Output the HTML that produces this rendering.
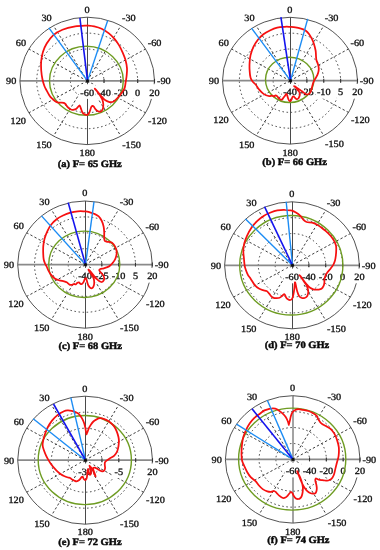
<!DOCTYPE html>
<html><head><meta charset="utf-8"><style>
html,body{margin:0;padding:0;background:#fff;}
svg{display:block;filter:blur(0.3px);}
text{text-rendering:geometricPrecision;font-family:"Liberation Serif",serif;font-size:9.6px;fill:#111;stroke:#111;stroke-width:0.32px;}
text.cap{font-weight:bold;font-size:9.8px;fill:#0a0a0a;stroke:#0a0a0a;stroke-width:0.45px;}
</style></head><body>
<svg width="380" height="550" viewBox="0 0 380 550">
<rect width="380" height="550" fill="#fff"/>
<ellipse cx="87.2" cy="80.9" rx="16.82" ry="15.93" fill="none" stroke="#3c3c3c" stroke-width="1" stroke-dasharray="1.5 2.6"/>
<ellipse cx="87.2" cy="80.9" rx="33.65" ry="31.85" fill="none" stroke="#3c3c3c" stroke-width="1" stroke-dasharray="1.5 2.6"/>
<ellipse cx="87.2" cy="80.9" rx="50.47" ry="47.78" fill="none" stroke="#3c3c3c" stroke-width="1" stroke-dasharray="1.5 2.6"/>
<line x1="87.2" y1="80.9" x2="53.55" y2="25.73" stroke="#3c3c3c" stroke-width="1" stroke-dasharray="2.4 2.2"/>
<line x1="87.2" y1="80.9" x2="28.92" y2="49.05" stroke="#3c3c3c" stroke-width="1" stroke-dasharray="2.4 2.2"/>
<line x1="87.2" y1="80.9" x2="28.92" y2="112.75" stroke="#3c3c3c" stroke-width="1" stroke-dasharray="2.4 2.2"/>
<line x1="87.2" y1="80.9" x2="53.55" y2="136.07" stroke="#3c3c3c" stroke-width="1" stroke-dasharray="2.4 2.2"/>
<line x1="87.2" y1="80.9" x2="120.85" y2="136.07" stroke="#3c3c3c" stroke-width="1" stroke-dasharray="2.4 2.2"/>
<line x1="87.2" y1="80.9" x2="145.48" y2="112.75" stroke="#3c3c3c" stroke-width="1" stroke-dasharray="2.4 2.2"/>
<line x1="87.2" y1="80.9" x2="145.48" y2="49.05" stroke="#3c3c3c" stroke-width="1" stroke-dasharray="2.4 2.2"/>
<line x1="87.2" y1="80.9" x2="120.85" y2="25.73" stroke="#3c3c3c" stroke-width="1" stroke-dasharray="2.4 2.2"/>
<line x1="19.90" y1="80.9" x2="154.50" y2="80.9" stroke="#8a8a8a" stroke-width="1.8"/>
<line x1="87.5" y1="17.20" x2="87.5" y2="144.60" stroke="#4a4a4a" stroke-width="1.05"/>
<ellipse cx="87.2" cy="80.9" rx="67.3" ry="63.7" fill="none" stroke="#4a4a4a" stroke-width="0.95"/>
<line x1="104.03" y1="78.90" x2="104.03" y2="82.90" stroke="#333" stroke-width="1.1"/>
<line x1="120.85" y1="78.90" x2="120.85" y2="82.90" stroke="#333" stroke-width="1.1"/>
<line x1="137.68" y1="78.90" x2="137.68" y2="82.90" stroke="#333" stroke-width="1.1"/>
<line x1="154.50" y1="78.90" x2="154.50" y2="82.90" stroke="#333" stroke-width="1.1"/>
<rect x="78.85" y="84.20" width="16.69" height="14.7" fill="#fff"/>
<rect x="95.68" y="84.20" width="16.69" height="14.7" fill="#fff"/>
<rect x="112.50" y="84.20" width="16.69" height="14.7" fill="#fff"/>
<rect x="133.61" y="84.20" width="8.14" height="14.7" fill="#fff"/>
<rect x="147.86" y="84.20" width="13.27" height="14.7" fill="#fff"/>
<text transform="translate(87.20,95.57) scale(1.07,1)" text-anchor="middle">-60</text>
<text transform="translate(104.03,95.57) scale(1.07,1)" text-anchor="middle">-40</text>
<text transform="translate(120.85,95.57) scale(1.07,1)" text-anchor="middle">-20</text>
<text transform="translate(137.68,95.57) scale(1.07,1)" text-anchor="middle">0</text>
<text transform="translate(154.50,95.57) scale(1.07,1)" text-anchor="middle">20</text>
<ellipse cx="86.4" cy="80.8" rx="36.9" ry="34.5" fill="none" stroke="#6e9c22" stroke-width="1.4"/>
<path d="M87.20,25.50 C85.20,25.65 79.33,25.70 75.20,26.40 C71.07,27.10 66.08,28.22 62.40,29.70 C58.72,31.18 55.72,33.00 53.10,35.30 C50.48,37.60 48.38,40.75 46.70,43.50 C45.02,46.25 43.92,48.88 43.00,51.80 C42.08,54.72 41.50,57.93 41.20,61.00 C40.90,64.07 40.98,67.12 41.20,70.20 C41.42,73.28 41.97,76.87 42.50,79.50 C43.03,82.13 43.72,84.18 44.40,86.00 C45.08,87.82 45.77,88.83 46.60,90.40 C47.43,91.97 48.47,94.02 49.40,95.40 C50.33,96.78 51.18,97.68 52.20,98.70 C53.22,99.72 54.50,100.85 55.50,101.50 C56.50,102.15 57.28,102.42 58.20,102.60 C59.12,102.78 60.07,102.57 61.00,102.60 C61.93,102.63 63.03,102.53 63.80,102.80 C64.57,103.07 65.05,103.60 65.60,104.20 C66.15,104.80 66.58,105.75 67.10,106.40 C67.62,107.05 68.15,107.63 68.70,108.10 C69.25,108.57 69.75,108.92 70.40,109.20 C71.05,109.48 71.82,109.77 72.60,109.80 C73.38,109.83 74.37,109.68 75.10,109.40 C75.83,109.12 76.40,108.65 77.00,108.10 C77.60,107.55 78.23,106.50 78.70,106.10 C79.17,105.70 79.38,105.17 79.80,105.70 C80.22,106.23 80.72,108.10 81.20,109.30 C81.68,110.50 82.00,112.00 82.70,112.90 C83.40,113.80 84.52,114.43 85.40,114.70 C86.28,114.97 87.30,114.97 88.00,114.50 C88.70,114.03 89.07,113.12 89.60,111.90 C90.13,110.68 90.72,108.22 91.20,107.20 C91.68,106.18 92.07,105.90 92.50,105.80 C92.93,105.70 93.32,106.05 93.80,106.60 C94.28,107.15 94.70,108.33 95.40,109.10 C96.10,109.87 97.13,110.78 98.00,111.20 C98.87,111.62 99.82,111.92 100.60,111.60 C101.38,111.28 102.25,110.48 102.70,109.30 C103.15,108.12 103.35,106.08 103.30,104.50 C103.25,102.92 102.93,101.28 102.40,99.80 C101.87,98.32 100.92,96.92 100.10,95.60 C99.28,94.28 98.38,93.05 97.50,91.90 C96.62,90.75 94.98,88.97 94.80,88.70 C94.62,88.43 95.68,89.50 96.40,90.30 C97.12,91.10 98.13,92.35 99.10,93.50 C100.07,94.65 101.15,96.07 102.20,97.20 C103.25,98.33 104.17,99.48 105.40,100.30 C106.63,101.12 108.23,101.88 109.60,102.10 C110.97,102.32 112.18,102.40 113.60,101.60 C115.02,100.80 116.73,98.78 118.10,97.30 C119.47,95.82 120.72,94.23 121.80,92.70 C122.88,91.17 123.97,89.80 124.60,88.10 C125.23,86.40 125.27,84.52 125.60,82.50 C125.93,80.48 126.37,78.35 126.60,76.00 C126.83,73.65 127.18,71.05 127.00,68.40 C126.82,65.75 126.20,62.70 125.50,60.10 C124.80,57.50 123.87,55.25 122.80,52.80 C121.73,50.35 120.48,47.72 119.10,45.40 C117.72,43.08 116.20,40.90 114.50,38.90 C112.80,36.90 111.05,35.08 108.90,33.40 C106.75,31.72 104.05,29.97 101.60,28.80 C99.15,27.63 96.60,26.95 94.20,26.40 C91.80,25.85 88.37,25.65 87.20,25.50" fill="none" stroke="#f61010" stroke-width="1.75" stroke-linejoin="round" stroke-linecap="round"/>
<line x1="48.9" y1="27.9" x2="87.5" y2="80.9" stroke="#1c8cf4" stroke-width="1.4"/>
<line x1="107.7" y1="20.5" x2="87.5" y2="80.9" stroke="#1c8cf4" stroke-width="1.4"/>
<line x1="79.9" y1="17.8" x2="87.5" y2="80.9" stroke="#1414ee" stroke-width="1.6"/>
<circle cx="87.5" cy="80.9" r="1.6" fill="#111"/>
<text transform="translate(87.00,12.77) scale(1.07,1)" text-anchor="middle">0</text>
<text transform="translate(46.60,21.37) scale(1.07,1)" text-anchor="middle">30</text>
<text transform="translate(20.90,45.77) scale(1.07,1)" text-anchor="middle">60</text>
<text transform="translate(11.20,84.27) scale(1.07,1)" text-anchor="middle">90</text>
<text transform="translate(18.20,123.67) scale(1.07,1)" text-anchor="middle">120</text>
<text transform="translate(44.00,147.77) scale(1.07,1)" text-anchor="middle">150</text>
<text transform="translate(87.30,156.07) scale(1.07,1)" text-anchor="middle">180</text>
<text transform="translate(131.60,147.67) scale(1.07,1)" text-anchor="middle">-150</text>
<text transform="translate(157.50,123.57) scale(1.07,1)" text-anchor="middle">-120</text>
<text transform="translate(163.90,84.47) scale(1.07,1)" text-anchor="middle">-90</text>
<text transform="translate(154.60,45.87) scale(1.07,1)" text-anchor="middle">-60</text>
<text transform="translate(128.80,21.47) scale(1.07,1)" text-anchor="middle">-30</text>
<text transform="translate(89.80,167.10) scale(1.07,1)" text-anchor="middle" class="cap">(a) F= 65 GHz</text>
<ellipse cx="290.0" cy="80.7" rx="16.88" ry="15.85" fill="none" stroke="#3c3c3c" stroke-width="1" stroke-dasharray="1.5 2.6"/>
<ellipse cx="290.0" cy="80.7" rx="33.75" ry="31.70" fill="none" stroke="#3c3c3c" stroke-width="1" stroke-dasharray="1.5 2.6"/>
<ellipse cx="290.0" cy="80.7" rx="50.62" ry="47.55" fill="none" stroke="#3c3c3c" stroke-width="1" stroke-dasharray="1.5 2.6"/>
<line x1="290.0" y1="80.7" x2="256.25" y2="25.79" stroke="#3c3c3c" stroke-width="1" stroke-dasharray="2.4 2.2"/>
<line x1="290.0" y1="80.7" x2="231.54" y2="49.00" stroke="#3c3c3c" stroke-width="1" stroke-dasharray="2.4 2.2"/>
<line x1="290.0" y1="80.7" x2="231.54" y2="112.40" stroke="#3c3c3c" stroke-width="1" stroke-dasharray="2.4 2.2"/>
<line x1="290.0" y1="80.7" x2="256.25" y2="135.61" stroke="#3c3c3c" stroke-width="1" stroke-dasharray="2.4 2.2"/>
<line x1="290.0" y1="80.7" x2="323.75" y2="135.61" stroke="#3c3c3c" stroke-width="1" stroke-dasharray="2.4 2.2"/>
<line x1="290.0" y1="80.7" x2="348.46" y2="112.40" stroke="#3c3c3c" stroke-width="1" stroke-dasharray="2.4 2.2"/>
<line x1="290.0" y1="80.7" x2="348.46" y2="49.00" stroke="#3c3c3c" stroke-width="1" stroke-dasharray="2.4 2.2"/>
<line x1="290.0" y1="80.7" x2="323.75" y2="25.79" stroke="#3c3c3c" stroke-width="1" stroke-dasharray="2.4 2.2"/>
<line x1="222.50" y1="80.7" x2="357.50" y2="80.7" stroke="#8a8a8a" stroke-width="1.8"/>
<line x1="290.5" y1="17.30" x2="290.5" y2="144.10" stroke="#4a4a4a" stroke-width="1.05"/>
<ellipse cx="290.0" cy="80.7" rx="67.5" ry="63.4" fill="none" stroke="#4a4a4a" stroke-width="0.95"/>
<line x1="306.88" y1="78.70" x2="306.88" y2="82.70" stroke="#333" stroke-width="1.1"/>
<line x1="323.75" y1="78.70" x2="323.75" y2="82.70" stroke="#333" stroke-width="1.1"/>
<line x1="340.62" y1="78.70" x2="340.62" y2="82.70" stroke="#333" stroke-width="1.1"/>
<line x1="357.50" y1="78.70" x2="357.50" y2="82.70" stroke="#333" stroke-width="1.1"/>
<rect x="281.65" y="84.00" width="16.69" height="14.7" fill="#fff"/>
<rect x="298.53" y="84.00" width="16.69" height="14.7" fill="#fff"/>
<rect x="315.40" y="84.00" width="16.69" height="14.7" fill="#fff"/>
<rect x="336.56" y="84.00" width="8.14" height="14.7" fill="#fff"/>
<rect x="350.86" y="84.00" width="13.27" height="14.7" fill="#fff"/>
<text transform="translate(290.00,95.37) scale(1.07,1)" text-anchor="middle">-40</text>
<text transform="translate(306.88,95.37) scale(1.07,1)" text-anchor="middle">-25</text>
<text transform="translate(323.75,95.37) scale(1.07,1)" text-anchor="middle">-10</text>
<text transform="translate(340.62,95.37) scale(1.07,1)" text-anchor="middle">5</text>
<text transform="translate(357.50,95.37) scale(1.07,1)" text-anchor="middle">20</text>
<ellipse cx="289.7" cy="79.85" rx="24.2" ry="22.65" fill="none" stroke="#6e9c22" stroke-width="1.4"/>
<path d="M290.00,26.80 C289.10,26.80 286.73,26.65 284.60,26.80 C282.47,26.95 279.65,27.08 277.20,27.70 C274.75,28.32 272.20,29.42 269.90,30.50 C267.60,31.58 265.40,32.67 263.40,34.20 C261.40,35.73 259.58,37.55 257.90,39.70 C256.22,41.85 254.53,44.48 253.30,47.10 C252.07,49.72 251.12,52.80 250.50,55.40 C249.88,58.00 249.75,60.25 249.60,62.70 C249.45,65.15 249.45,67.63 249.60,70.10 C249.75,72.57 250.00,75.60 250.50,77.50 C251.00,79.40 251.72,80.30 252.60,81.50 C253.48,82.70 254.73,83.38 255.80,84.70 C256.87,86.02 257.82,87.95 259.00,89.40 C260.18,90.85 261.72,92.42 262.90,93.40 C264.08,94.38 265.05,94.85 266.10,95.30 C267.15,95.75 268.15,96.03 269.20,96.10 C270.25,96.17 271.60,95.63 272.40,95.70 C273.20,95.77 273.48,96.57 274.00,96.50 C274.52,96.43 274.98,95.35 275.50,95.30 C276.02,95.25 276.43,95.60 277.10,96.20 C277.77,96.80 278.70,98.33 279.50,98.90 C280.30,99.47 281.22,99.83 281.90,99.60 C282.58,99.37 283.05,98.20 283.60,97.50 C284.15,96.80 284.77,96.02 285.20,95.40 C285.63,94.78 285.88,93.90 286.20,93.80 C286.52,93.70 286.83,94.18 287.10,94.80 C287.37,95.42 287.52,96.62 287.80,97.50 C288.08,98.38 288.40,99.48 288.80,100.10 C289.20,100.72 289.75,101.28 290.20,101.20 C290.65,101.12 291.12,100.32 291.50,99.60 C291.88,98.88 292.15,97.43 292.50,96.90 C292.85,96.37 293.15,96.22 293.60,96.40 C294.05,96.58 294.68,97.55 295.20,98.00 C295.72,98.45 296.18,99.02 296.70,99.10 C297.22,99.18 297.85,98.95 298.30,98.50 C298.75,98.05 299.13,97.10 299.40,96.40 C299.67,95.70 299.90,95.00 299.90,94.30 C299.90,93.60 299.75,92.90 299.40,92.20 C299.05,91.50 298.42,90.88 297.80,90.10 C297.18,89.32 296.32,88.15 295.70,87.50 C295.08,86.85 294.10,86.30 294.10,86.20 C294.10,86.10 295.08,86.52 295.70,86.90 C296.32,87.28 297.02,87.97 297.80,88.50 C298.58,89.03 299.52,89.48 300.40,90.10 C301.28,90.72 302.22,91.55 303.10,92.20 C303.98,92.85 304.95,93.62 305.70,94.00 C306.45,94.38 306.98,94.58 307.60,94.50 C308.22,94.42 308.87,94.03 309.40,93.50 C309.93,92.97 310.38,92.30 310.80,91.30 C311.22,90.30 311.55,88.77 311.90,87.50 C312.25,86.23 312.55,84.82 312.90,83.70 C313.25,82.58 313.58,81.67 314.00,80.80 C314.42,79.93 314.85,79.43 315.40,78.50 C315.95,77.57 316.78,76.38 317.30,75.20 C317.82,74.02 318.27,72.67 318.50,71.40 C318.73,70.13 318.82,68.87 318.70,67.60 C318.58,66.33 318.18,65.07 317.80,63.80 C317.42,62.53 316.70,61.30 316.40,60.00 C316.10,58.70 316.13,57.58 316.00,56.00 C315.87,54.42 315.97,52.60 315.60,50.50 C315.23,48.40 314.42,45.35 313.80,43.40 C313.18,41.45 312.67,40.33 311.90,38.80 C311.13,37.27 310.27,35.58 309.20,34.20 C308.13,32.82 306.88,31.42 305.50,30.50 C304.12,29.58 302.58,29.22 300.90,28.70 C299.22,28.18 297.22,27.72 295.40,27.40 C293.58,27.08 290.90,26.90 290.00,26.80" fill="none" stroke="#f61010" stroke-width="1.75" stroke-linejoin="round" stroke-linecap="round"/>
<line x1="251.5" y1="28.1" x2="290.5" y2="80.7" stroke="#1c8cf4" stroke-width="1.4"/>
<line x1="307.7" y1="18.9" x2="290.5" y2="80.7" stroke="#1c8cf4" stroke-width="1.4"/>
<line x1="280.9" y1="17.1" x2="290.5" y2="80.7" stroke="#1414ee" stroke-width="1.6"/>
<circle cx="290.5" cy="80.7" r="1.6" fill="#111"/>
<text transform="translate(289.80,12.57) scale(1.07,1)" text-anchor="middle">0</text>
<text transform="translate(249.40,21.17) scale(1.07,1)" text-anchor="middle">30</text>
<text transform="translate(223.70,45.57) scale(1.07,1)" text-anchor="middle">60</text>
<text transform="translate(214.00,84.07) scale(1.07,1)" text-anchor="middle">90</text>
<text transform="translate(221.00,123.47) scale(1.07,1)" text-anchor="middle">120</text>
<text transform="translate(246.80,147.57) scale(1.07,1)" text-anchor="middle">150</text>
<text transform="translate(290.10,155.87) scale(1.07,1)" text-anchor="middle">180</text>
<text transform="translate(334.40,147.47) scale(1.07,1)" text-anchor="middle">-150</text>
<text transform="translate(360.30,123.37) scale(1.07,1)" text-anchor="middle">-120</text>
<text transform="translate(366.70,84.27) scale(1.07,1)" text-anchor="middle">-90</text>
<text transform="translate(357.40,45.67) scale(1.07,1)" text-anchor="middle">-60</text>
<text transform="translate(331.60,21.27) scale(1.07,1)" text-anchor="middle">-30</text>
<text transform="translate(294.60,165.40) scale(1.07,1)" text-anchor="middle" class="cap">(b) F= 66 GHz</text>
<ellipse cx="85.0" cy="264.6" rx="16.82" ry="15.90" fill="none" stroke="#3c3c3c" stroke-width="1" stroke-dasharray="1.5 2.6"/>
<ellipse cx="85.0" cy="264.6" rx="33.65" ry="31.80" fill="none" stroke="#3c3c3c" stroke-width="1" stroke-dasharray="1.5 2.6"/>
<ellipse cx="85.0" cy="264.6" rx="50.47" ry="47.70" fill="none" stroke="#3c3c3c" stroke-width="1" stroke-dasharray="1.5 2.6"/>
<line x1="85.0" y1="264.6" x2="51.35" y2="209.52" stroke="#3c3c3c" stroke-width="1" stroke-dasharray="2.4 2.2"/>
<line x1="85.0" y1="264.6" x2="26.72" y2="232.80" stroke="#3c3c3c" stroke-width="1" stroke-dasharray="2.4 2.2"/>
<line x1="85.0" y1="264.6" x2="26.72" y2="296.40" stroke="#3c3c3c" stroke-width="1" stroke-dasharray="2.4 2.2"/>
<line x1="85.0" y1="264.6" x2="51.35" y2="319.68" stroke="#3c3c3c" stroke-width="1" stroke-dasharray="2.4 2.2"/>
<line x1="85.0" y1="264.6" x2="118.65" y2="319.68" stroke="#3c3c3c" stroke-width="1" stroke-dasharray="2.4 2.2"/>
<line x1="85.0" y1="264.6" x2="143.28" y2="296.40" stroke="#3c3c3c" stroke-width="1" stroke-dasharray="2.4 2.2"/>
<line x1="85.0" y1="264.6" x2="143.28" y2="232.80" stroke="#3c3c3c" stroke-width="1" stroke-dasharray="2.4 2.2"/>
<line x1="85.0" y1="264.6" x2="118.65" y2="209.52" stroke="#3c3c3c" stroke-width="1" stroke-dasharray="2.4 2.2"/>
<line x1="17.70" y1="264.6" x2="152.30" y2="264.6" stroke="#8a8a8a" stroke-width="1.8"/>
<line x1="85.5" y1="201.00" x2="85.5" y2="328.20" stroke="#4a4a4a" stroke-width="1.05"/>
<ellipse cx="85.0" cy="264.6" rx="67.3" ry="63.6" fill="none" stroke="#4a4a4a" stroke-width="0.95"/>
<line x1="101.83" y1="262.60" x2="101.83" y2="266.60" stroke="#333" stroke-width="1.1"/>
<line x1="118.65" y1="262.60" x2="118.65" y2="266.60" stroke="#333" stroke-width="1.1"/>
<line x1="135.47" y1="262.60" x2="135.47" y2="266.60" stroke="#333" stroke-width="1.1"/>
<line x1="152.30" y1="262.60" x2="152.30" y2="266.60" stroke="#333" stroke-width="1.1"/>
<rect x="76.65" y="267.90" width="16.69" height="14.7" fill="#fff"/>
<rect x="93.48" y="267.90" width="16.69" height="14.7" fill="#fff"/>
<rect x="110.30" y="267.90" width="16.69" height="14.7" fill="#fff"/>
<rect x="131.41" y="267.90" width="8.14" height="14.7" fill="#fff"/>
<rect x="145.66" y="267.90" width="13.27" height="14.7" fill="#fff"/>
<text transform="translate(85.00,279.27) scale(1.07,1)" text-anchor="middle">-40</text>
<text transform="translate(101.83,279.27) scale(1.07,1)" text-anchor="middle">-25</text>
<text transform="translate(118.65,279.27) scale(1.07,1)" text-anchor="middle">-10</text>
<text transform="translate(135.47,279.27) scale(1.07,1)" text-anchor="middle">5</text>
<text transform="translate(152.30,279.27) scale(1.07,1)" text-anchor="middle">20</text>
<ellipse cx="84.25" cy="264.3" rx="35.55" ry="33.2" fill="none" stroke="#6e9c22" stroke-width="1.4"/>
<path d="M85.00,211.30 C83.80,211.30 80.23,211.07 77.80,211.30 C75.37,211.53 72.87,212.00 70.40,212.70 C67.93,213.40 65.30,214.42 63.00,215.50 C60.70,216.58 58.58,217.67 56.60,219.20 C54.62,220.73 52.63,222.72 51.10,224.70 C49.57,226.68 48.48,228.80 47.40,231.10 C46.32,233.40 45.28,236.03 44.60,238.50 C43.92,240.97 43.53,243.45 43.30,245.90 C43.07,248.35 43.13,250.93 43.20,253.20 C43.27,255.47 43.40,257.78 43.70,259.50 C44.00,261.22 44.53,262.38 45.00,263.50 C45.47,264.62 45.95,265.07 46.50,266.20 C47.05,267.33 47.53,268.85 48.30,270.30 C49.07,271.75 50.02,273.52 51.10,274.90 C52.18,276.28 53.42,277.68 54.80,278.60 C56.18,279.52 57.87,279.95 59.40,280.40 C60.93,280.85 62.78,280.98 64.00,281.30 C65.22,281.62 65.78,281.75 66.70,282.30 C67.62,282.85 68.60,284.17 69.50,284.60 C70.40,285.03 71.32,285.02 72.10,284.90 C72.88,284.78 73.58,283.98 74.20,283.90 C74.82,283.82 75.27,284.58 75.80,284.40 C76.33,284.22 76.88,283.15 77.40,282.80 C77.92,282.45 78.47,282.20 78.90,282.30 C79.33,282.40 79.58,283.10 80.00,283.40 C80.42,283.70 80.97,284.10 81.40,284.10 C81.83,284.10 82.18,283.87 82.60,283.40 C83.02,282.93 83.55,282.00 83.90,281.30 C84.25,280.60 84.38,279.73 84.70,279.20 C85.02,278.67 85.48,278.02 85.80,278.10 C86.12,278.18 86.33,278.92 86.60,279.70 C86.87,280.48 87.10,281.83 87.40,282.80 C87.70,283.77 87.97,284.70 88.40,285.50 C88.83,286.30 89.47,287.13 90.00,287.60 C90.53,288.07 91.12,288.30 91.60,288.30 C92.08,288.30 92.50,288.17 92.90,287.60 C93.30,287.03 93.78,285.87 94.00,284.90 C94.22,283.93 94.25,282.85 94.20,281.80 C94.15,280.75 94.05,279.65 93.70,278.60 C93.35,277.55 92.72,276.55 92.10,275.50 C91.48,274.45 90.62,273.27 90.00,272.30 C89.38,271.33 88.40,269.95 88.40,269.70 C88.40,269.45 89.38,270.15 90.00,270.80 C90.62,271.45 91.32,272.60 92.10,273.60 C92.88,274.60 93.85,275.83 94.70,276.80 C95.55,277.77 96.40,278.65 97.20,279.40 C98.00,280.15 98.77,280.87 99.50,281.30 C100.23,281.73 100.97,282.05 101.60,282.00 C102.23,281.95 102.87,281.57 103.30,281.00 C103.73,280.43 104.15,279.43 104.20,278.60 C104.25,277.77 103.97,276.82 103.60,276.00 C103.23,275.18 102.60,274.45 102.00,273.70 C101.40,272.95 100.47,272.12 100.00,271.50 C99.53,270.88 99.15,270.42 99.20,270.00 C99.25,269.58 99.53,269.28 100.30,269.00 C101.07,268.72 102.62,268.62 103.80,268.30 C104.98,267.98 106.33,267.57 107.40,267.10 C108.47,266.63 109.35,266.17 110.20,265.50 C111.05,264.83 111.78,263.95 112.50,263.10 C113.22,262.25 113.95,261.33 114.50,260.40 C115.05,259.47 115.45,258.53 115.80,257.50 C116.15,256.47 116.48,255.37 116.60,254.20 C116.72,253.03 116.73,251.73 116.50,250.50 C116.27,249.27 115.72,247.88 115.20,246.80 C114.68,245.72 114.17,244.77 113.40,244.00 C112.63,243.23 111.68,242.57 110.60,242.20 C109.52,241.83 107.88,242.05 106.90,241.80 C105.92,241.55 105.15,241.40 104.70,240.70 C104.25,240.00 104.28,239.03 104.20,237.60 C104.12,236.17 104.30,233.95 104.20,232.10 C104.10,230.25 104.00,228.35 103.60,226.50 C103.20,224.65 102.62,222.68 101.80,221.00 C100.98,219.32 100.00,217.62 98.70,216.40 C97.40,215.18 95.70,214.47 94.00,213.70 C92.30,212.93 90.00,212.20 88.50,211.80 C87.00,211.40 85.58,211.38 85.00,211.30" fill="none" stroke="#f61010" stroke-width="1.75" stroke-linejoin="round" stroke-linecap="round"/>
<line x1="41.5" y1="215.9" x2="85.5" y2="264.6" stroke="#1c8cf4" stroke-width="1.4"/>
<line x1="94" y1="201.7" x2="85.5" y2="264.6" stroke="#1c8cf4" stroke-width="1.4"/>
<line x1="68.2" y1="202.6" x2="85.5" y2="264.6" stroke="#1414ee" stroke-width="1.6"/>
<circle cx="85.5" cy="264.6" r="1.6" fill="#111"/>
<text transform="translate(84.80,196.47) scale(1.07,1)" text-anchor="middle">0</text>
<text transform="translate(44.40,205.07) scale(1.07,1)" text-anchor="middle">30</text>
<text transform="translate(18.70,229.47) scale(1.07,1)" text-anchor="middle">60</text>
<text transform="translate(9.00,267.97) scale(1.07,1)" text-anchor="middle">90</text>
<text transform="translate(16.00,307.37) scale(1.07,1)" text-anchor="middle">120</text>
<text transform="translate(41.80,331.47) scale(1.07,1)" text-anchor="middle">150</text>
<text transform="translate(85.10,339.77) scale(1.07,1)" text-anchor="middle">180</text>
<text transform="translate(129.40,331.37) scale(1.07,1)" text-anchor="middle">-150</text>
<text transform="translate(155.30,307.27) scale(1.07,1)" text-anchor="middle">-120</text>
<text transform="translate(161.70,268.17) scale(1.07,1)" text-anchor="middle">-90</text>
<text transform="translate(152.40,229.57) scale(1.07,1)" text-anchor="middle">-60</text>
<text transform="translate(126.60,205.17) scale(1.07,1)" text-anchor="middle">-30</text>
<text transform="translate(90.20,348.70) scale(1.07,1)" text-anchor="middle" class="cap">(c) F= 68 GHz</text>
<ellipse cx="292.0" cy="265.3" rx="16.85" ry="15.88" fill="none" stroke="#3c3c3c" stroke-width="1" stroke-dasharray="1.5 2.6"/>
<ellipse cx="292.0" cy="265.3" rx="33.70" ry="31.75" fill="none" stroke="#3c3c3c" stroke-width="1" stroke-dasharray="1.5 2.6"/>
<ellipse cx="292.0" cy="265.3" rx="50.55" ry="47.62" fill="none" stroke="#3c3c3c" stroke-width="1" stroke-dasharray="1.5 2.6"/>
<line x1="292.0" y1="265.3" x2="258.30" y2="210.31" stroke="#3c3c3c" stroke-width="1" stroke-dasharray="2.4 2.2"/>
<line x1="292.0" y1="265.3" x2="233.63" y2="233.55" stroke="#3c3c3c" stroke-width="1" stroke-dasharray="2.4 2.2"/>
<line x1="292.0" y1="265.3" x2="233.63" y2="297.05" stroke="#3c3c3c" stroke-width="1" stroke-dasharray="2.4 2.2"/>
<line x1="292.0" y1="265.3" x2="258.30" y2="320.29" stroke="#3c3c3c" stroke-width="1" stroke-dasharray="2.4 2.2"/>
<line x1="292.0" y1="265.3" x2="325.70" y2="320.29" stroke="#3c3c3c" stroke-width="1" stroke-dasharray="2.4 2.2"/>
<line x1="292.0" y1="265.3" x2="350.37" y2="297.05" stroke="#3c3c3c" stroke-width="1" stroke-dasharray="2.4 2.2"/>
<line x1="292.0" y1="265.3" x2="350.37" y2="233.55" stroke="#3c3c3c" stroke-width="1" stroke-dasharray="2.4 2.2"/>
<line x1="292.0" y1="265.3" x2="325.70" y2="210.31" stroke="#3c3c3c" stroke-width="1" stroke-dasharray="2.4 2.2"/>
<line x1="224.60" y1="265.3" x2="359.40" y2="265.3" stroke="#8a8a8a" stroke-width="1.8"/>
<line x1="292.5" y1="201.80" x2="292.5" y2="328.80" stroke="#4a4a4a" stroke-width="1.05"/>
<ellipse cx="292.0" cy="265.3" rx="67.4" ry="63.5" fill="none" stroke="#4a4a4a" stroke-width="0.95"/>
<line x1="308.85" y1="263.30" x2="308.85" y2="267.30" stroke="#333" stroke-width="1.1"/>
<line x1="325.70" y1="263.30" x2="325.70" y2="267.30" stroke="#333" stroke-width="1.1"/>
<line x1="342.55" y1="263.30" x2="342.55" y2="267.30" stroke="#333" stroke-width="1.1"/>
<line x1="359.40" y1="263.30" x2="359.40" y2="267.30" stroke="#333" stroke-width="1.1"/>
<rect x="283.65" y="268.60" width="16.69" height="14.7" fill="#fff"/>
<rect x="300.50" y="268.60" width="16.69" height="14.7" fill="#fff"/>
<rect x="317.35" y="268.60" width="16.69" height="14.7" fill="#fff"/>
<rect x="338.48" y="268.60" width="8.14" height="14.7" fill="#fff"/>
<rect x="352.76" y="268.60" width="13.27" height="14.7" fill="#fff"/>
<text transform="translate(292.00,279.97) scale(1.07,1)" text-anchor="middle">-60</text>
<text transform="translate(308.85,279.97) scale(1.07,1)" text-anchor="middle">-40</text>
<text transform="translate(325.70,279.97) scale(1.07,1)" text-anchor="middle">-20</text>
<text transform="translate(342.55,279.97) scale(1.07,1)" text-anchor="middle">0</text>
<text transform="translate(359.40,279.97) scale(1.07,1)" text-anchor="middle">20</text>
<ellipse cx="291.3" cy="265.25" rx="51.6" ry="49.75" fill="none" stroke="#6e9c22" stroke-width="1.4"/>
<path d="M292.00,210.60 C290.80,210.50 287.23,210.03 284.80,210.00 C282.37,209.97 279.87,209.93 277.40,210.40 C274.93,210.87 272.30,211.88 270.00,212.80 C267.70,213.72 265.75,214.52 263.60,215.90 C261.45,217.28 259.10,219.17 257.10,221.10 C255.10,223.03 253.28,225.05 251.60,227.50 C249.92,229.95 248.22,233.18 247.00,235.80 C245.78,238.42 244.92,240.73 244.30,243.20 C243.68,245.67 243.37,248.13 243.30,250.60 C243.23,253.07 243.68,255.55 243.90,258.00 C244.12,260.45 244.30,263.38 244.60,265.30 C244.90,267.22 245.15,267.90 245.70,269.50 C246.25,271.10 247.18,273.52 247.90,274.90 C248.62,276.28 249.25,276.70 250.00,277.80 C250.75,278.90 251.52,280.18 252.40,281.50 C253.28,282.82 254.22,284.52 255.30,285.70 C256.38,286.88 257.62,287.85 258.90,288.60 C260.18,289.35 261.72,289.80 263.00,290.20 C264.28,290.60 265.60,290.47 266.60,291.00 C267.60,291.53 268.22,292.52 269.00,293.40 C269.78,294.28 270.52,295.55 271.30,296.30 C272.08,297.05 272.80,297.60 273.70,297.90 C274.60,298.20 275.72,298.13 276.70,298.10 C277.68,298.07 278.72,298.03 279.60,297.70 C280.48,297.37 281.30,296.68 282.00,296.10 C282.70,295.52 283.30,294.40 283.80,294.20 C284.30,294.00 284.62,294.35 285.00,294.90 C285.38,295.45 285.62,296.77 286.10,297.50 C286.58,298.23 287.20,298.88 287.90,299.30 C288.60,299.72 289.58,300.12 290.30,300.00 C291.02,299.88 291.67,299.58 292.20,298.60 C292.73,297.62 293.15,295.77 293.50,294.10 C293.85,292.43 294.10,290.32 294.30,288.60 C294.50,286.88 294.57,284.85 294.70,283.80 C294.83,282.75 294.90,282.03 295.10,282.30 C295.30,282.57 295.63,284.22 295.90,285.40 C296.17,286.58 296.37,288.08 296.70,289.40 C297.03,290.72 297.45,292.12 297.90,293.30 C298.35,294.48 298.75,295.72 299.40,296.50 C300.05,297.28 300.93,297.75 301.80,298.00 C302.67,298.25 303.75,298.25 304.60,298.00 C305.45,297.75 306.32,297.28 306.90,296.50 C307.48,295.72 307.90,294.35 308.10,293.30 C308.30,292.25 308.30,291.38 308.10,290.20 C307.90,289.02 307.42,287.40 306.90,286.20 C306.38,285.00 305.65,284.05 305.00,283.00 C304.35,281.95 303.67,280.88 303.00,279.90 C302.33,278.92 301.60,277.88 301.00,277.10 C300.40,276.32 299.40,275.27 299.40,275.20 C299.40,275.13 300.27,275.78 301.00,276.70 C301.73,277.62 302.82,279.38 303.80,280.70 C304.78,282.02 305.85,283.42 306.90,284.60 C307.95,285.78 309.03,287.00 310.10,287.80 C311.17,288.60 312.25,289.10 313.30,289.40 C314.35,289.70 315.57,289.57 316.40,289.60 C317.23,289.63 317.45,289.73 318.30,289.60 C319.15,289.47 320.62,289.42 321.50,288.80 C322.38,288.18 323.12,286.93 323.60,285.90 C324.08,284.87 324.27,283.68 324.40,282.60 C324.53,281.52 324.20,280.62 324.40,279.40 C324.60,278.18 325.05,276.53 325.60,275.30 C326.15,274.07 326.88,273.10 327.70,272.00 C328.52,270.90 329.55,269.93 330.50,268.70 C331.45,267.47 332.65,265.97 333.40,264.60 C334.15,263.23 334.60,261.93 335.00,260.50 C335.40,259.07 335.60,257.58 335.80,256.00 C336.00,254.42 336.17,252.75 336.20,251.00 C336.23,249.25 336.40,247.27 336.00,245.50 C335.60,243.73 334.72,242.02 333.80,240.40 C332.88,238.78 331.82,237.33 330.50,235.80 C329.18,234.27 327.43,232.58 325.90,231.20 C324.37,229.82 322.83,228.63 321.30,227.50 C319.77,226.37 318.23,225.22 316.70,224.40 C315.17,223.58 313.78,223.00 312.10,222.60 C310.42,222.20 307.98,222.40 306.60,222.00 C305.22,221.60 304.88,221.27 303.80,220.20 C302.72,219.13 301.48,216.92 300.10,215.60 C298.72,214.28 296.85,213.13 295.50,212.30 C294.15,211.47 292.58,210.88 292.00,210.60" fill="none" stroke="#f61010" stroke-width="1.75" stroke-linejoin="round" stroke-linecap="round"/>
<line x1="245.5" y1="218.9" x2="292.5" y2="265.3" stroke="#1c8cf4" stroke-width="1.4"/>
<line x1="286.2" y1="201.8" x2="292.5" y2="265.3" stroke="#1c8cf4" stroke-width="1.4"/>
<line x1="264.5" y1="206.7" x2="292.5" y2="265.3" stroke="#1414ee" stroke-width="1.6"/>
<circle cx="292.5" cy="265.3" r="1.6" fill="#111"/>
<text transform="translate(291.80,197.17) scale(1.07,1)" text-anchor="middle">0</text>
<text transform="translate(251.40,205.77) scale(1.07,1)" text-anchor="middle">30</text>
<text transform="translate(225.70,230.17) scale(1.07,1)" text-anchor="middle">60</text>
<text transform="translate(216.00,268.67) scale(1.07,1)" text-anchor="middle">90</text>
<text transform="translate(223.00,308.07) scale(1.07,1)" text-anchor="middle">120</text>
<text transform="translate(248.80,332.17) scale(1.07,1)" text-anchor="middle">150</text>
<text transform="translate(292.10,340.47) scale(1.07,1)" text-anchor="middle">180</text>
<text transform="translate(336.40,332.07) scale(1.07,1)" text-anchor="middle">-150</text>
<text transform="translate(362.30,307.97) scale(1.07,1)" text-anchor="middle">-120</text>
<text transform="translate(368.70,268.87) scale(1.07,1)" text-anchor="middle">-90</text>
<text transform="translate(359.40,230.27) scale(1.07,1)" text-anchor="middle">-60</text>
<text transform="translate(333.60,205.87) scale(1.07,1)" text-anchor="middle">-30</text>
<text transform="translate(297.00,348.20) scale(1.07,1)" text-anchor="middle" class="cap">(d) F= 70 GHz</text>
<ellipse cx="85.1" cy="460.2" rx="16.85" ry="16.00" fill="none" stroke="#3c3c3c" stroke-width="1" stroke-dasharray="1.5 2.6"/>
<ellipse cx="85.1" cy="460.2" rx="33.70" ry="32.00" fill="none" stroke="#3c3c3c" stroke-width="1" stroke-dasharray="1.5 2.6"/>
<ellipse cx="85.1" cy="460.2" rx="50.55" ry="48.00" fill="none" stroke="#3c3c3c" stroke-width="1" stroke-dasharray="1.5 2.6"/>
<line x1="85.1" y1="460.2" x2="51.40" y2="404.77" stroke="#3c3c3c" stroke-width="1" stroke-dasharray="2.4 2.2"/>
<line x1="85.1" y1="460.2" x2="26.73" y2="428.20" stroke="#3c3c3c" stroke-width="1" stroke-dasharray="2.4 2.2"/>
<line x1="85.1" y1="460.2" x2="26.73" y2="492.20" stroke="#3c3c3c" stroke-width="1" stroke-dasharray="2.4 2.2"/>
<line x1="85.1" y1="460.2" x2="51.40" y2="515.63" stroke="#3c3c3c" stroke-width="1" stroke-dasharray="2.4 2.2"/>
<line x1="85.1" y1="460.2" x2="118.80" y2="515.63" stroke="#3c3c3c" stroke-width="1" stroke-dasharray="2.4 2.2"/>
<line x1="85.1" y1="460.2" x2="143.47" y2="492.20" stroke="#3c3c3c" stroke-width="1" stroke-dasharray="2.4 2.2"/>
<line x1="85.1" y1="460.2" x2="143.47" y2="428.20" stroke="#3c3c3c" stroke-width="1" stroke-dasharray="2.4 2.2"/>
<line x1="85.1" y1="460.2" x2="118.80" y2="404.77" stroke="#3c3c3c" stroke-width="1" stroke-dasharray="2.4 2.2"/>
<line x1="17.70" y1="460.2" x2="152.50" y2="460.2" stroke="#8a8a8a" stroke-width="1.8"/>
<line x1="85.5" y1="396.20" x2="85.5" y2="524.20" stroke="#4a4a4a" stroke-width="1.05"/>
<ellipse cx="85.1" cy="460.2" rx="67.4" ry="64.0" fill="none" stroke="#4a4a4a" stroke-width="0.95"/>
<line x1="101.95" y1="458.20" x2="101.95" y2="462.20" stroke="#333" stroke-width="1.1"/>
<line x1="118.80" y1="458.20" x2="118.80" y2="462.20" stroke="#333" stroke-width="1.1"/>
<line x1="135.65" y1="458.20" x2="135.65" y2="462.20" stroke="#333" stroke-width="1.1"/>
<line x1="152.50" y1="458.20" x2="152.50" y2="462.20" stroke="#333" stroke-width="1.1"/>
<rect x="76.75" y="463.50" width="16.69" height="14.7" fill="#fff"/>
<rect x="113.02" y="463.50" width="11.56" height="14.7" fill="#fff"/>
<rect x="145.86" y="463.50" width="13.27" height="14.7" fill="#fff"/>
<text transform="translate(85.10,474.87) scale(1.07,1)" text-anchor="middle">-30</text>
<text transform="translate(118.80,474.87) scale(1.07,1)" text-anchor="middle">-5</text>
<text transform="translate(152.50,474.87) scale(1.07,1)" text-anchor="middle">20</text>
<ellipse cx="84.8" cy="460.05" rx="46.6" ry="44.55" fill="none" stroke="#6e9c22" stroke-width="1.4"/>
<path d="M86.50,434.30 C86.42,433.90 86.20,433.00 86.00,431.90 C85.80,430.80 85.57,429.03 85.30,427.70 C85.03,426.37 84.80,425.17 84.40,423.90 C84.00,422.63 83.47,421.28 82.90,420.10 C82.33,418.92 81.70,417.83 81.00,416.80 C80.30,415.77 79.63,414.70 78.70,413.90 C77.77,413.10 76.58,412.52 75.40,412.00 C74.22,411.48 72.87,411.07 71.60,410.80 C70.33,410.53 69.07,410.33 67.80,410.40 C66.53,410.47 65.72,410.42 64.00,411.20 C62.28,411.98 59.50,413.53 57.50,415.10 C55.50,416.67 53.68,418.45 52.00,420.60 C50.32,422.75 48.68,425.38 47.40,428.00 C46.12,430.62 45.10,433.52 44.30,436.30 C43.50,439.08 42.62,442.25 42.60,444.70 C42.58,447.15 43.60,449.15 44.20,451.00 C44.80,452.85 45.48,454.28 46.20,455.80 C46.92,457.32 47.65,458.65 48.50,460.10 C49.35,461.55 50.30,463.12 51.30,464.50 C52.30,465.88 53.45,467.22 54.50,468.40 C55.55,469.58 56.60,470.67 57.60,471.60 C58.60,472.53 59.43,473.27 60.50,474.00 C61.57,474.73 62.75,475.42 64.00,476.00 C65.25,476.58 66.98,477.17 68.00,477.50 C69.02,477.83 69.40,477.65 70.10,478.00 C70.80,478.35 71.50,479.17 72.20,479.60 C72.90,480.03 73.60,480.30 74.30,480.60 C75.00,480.90 75.70,481.40 76.40,481.40 C77.10,481.40 77.88,480.98 78.50,480.60 C79.12,480.22 79.57,479.70 80.10,479.10 C80.63,478.50 81.27,477.40 81.70,477.00 C82.13,476.60 82.38,476.42 82.70,476.70 C83.02,476.98 83.18,478.12 83.60,478.70 C84.02,479.28 84.73,480.15 85.20,480.20 C85.67,480.25 86.08,479.73 86.40,479.00 C86.72,478.27 86.93,476.97 87.10,475.80 C87.27,474.63 87.25,473.17 87.40,472.00 C87.55,470.83 87.77,468.80 88.00,468.80 C88.23,468.80 88.53,471.08 88.80,472.00 C89.07,472.92 89.32,473.88 89.60,474.30 C89.88,474.72 90.27,474.88 90.50,474.50 C90.73,474.12 91.03,473.00 91.00,472.00 C90.97,471.00 90.57,469.58 90.30,468.50 C90.03,467.42 89.20,465.58 89.40,465.50 C89.60,465.42 90.87,467.08 91.50,468.00 C92.13,468.92 92.68,469.92 93.20,471.00 C93.72,472.08 94.20,473.60 94.60,474.50 C95.00,475.40 95.62,476.65 95.60,476.40 C95.58,476.15 94.93,474.32 94.50,473.00 C94.07,471.68 92.98,469.40 93.00,468.50 C93.02,467.60 93.90,467.55 94.60,467.60 C95.30,467.65 96.35,468.33 97.20,468.80 C98.05,469.27 98.87,469.97 99.70,470.40 C100.53,470.83 101.47,471.35 102.20,471.40 C102.93,471.45 103.62,471.23 104.10,470.70 C104.58,470.17 104.98,469.13 105.10,468.20 C105.22,467.27 104.83,466.05 104.80,465.10 C104.77,464.15 104.67,463.22 104.90,462.50 C105.13,461.78 105.40,461.48 106.20,460.80 C107.00,460.12 108.35,459.25 109.70,458.40 C111.05,457.55 113.03,456.93 114.30,455.70 C115.57,454.47 116.60,452.62 117.30,451.00 C118.00,449.38 118.23,447.67 118.50,446.00 C118.77,444.33 118.92,442.53 118.90,441.00 C118.88,439.47 118.75,438.37 118.40,436.80 C118.05,435.23 117.45,433.23 116.80,431.60 C116.15,429.97 115.37,428.32 114.50,427.00 C113.63,425.68 112.63,424.68 111.60,423.70 C110.57,422.72 109.52,421.87 108.30,421.10 C107.08,420.33 105.68,419.58 104.30,419.10 C102.92,418.62 101.35,418.12 100.00,418.20 C98.65,418.28 97.30,419.05 96.20,419.60 C95.10,420.15 94.27,420.70 93.40,421.50 C92.53,422.30 91.72,423.37 91.00,424.40 C90.28,425.43 89.65,426.52 89.10,427.70 C88.55,428.88 88.13,430.40 87.70,431.50 C87.27,432.60 86.70,433.83 86.50,434.30" fill="none" stroke="#f61010" stroke-width="1.75" stroke-linejoin="round" stroke-linecap="round"/>
<line x1="33.2" y1="418.8" x2="85.5" y2="460.2" stroke="#1c8cf4" stroke-width="1.4"/>
<line x1="70.8" y1="397.6" x2="85.5" y2="460.2" stroke="#1c8cf4" stroke-width="1.4"/>
<line x1="53.5" y1="404" x2="85.5" y2="460.2" stroke="#1414ee" stroke-width="1.6"/>
<circle cx="85.5" cy="460.2" r="1.6" fill="#111"/>
<text transform="translate(84.90,392.07) scale(1.07,1)" text-anchor="middle">0</text>
<text transform="translate(44.50,400.67) scale(1.07,1)" text-anchor="middle">30</text>
<text transform="translate(18.80,425.07) scale(1.07,1)" text-anchor="middle">60</text>
<text transform="translate(9.10,463.57) scale(1.07,1)" text-anchor="middle">90</text>
<text transform="translate(16.10,502.97) scale(1.07,1)" text-anchor="middle">120</text>
<text transform="translate(41.90,527.07) scale(1.07,1)" text-anchor="middle">150</text>
<text transform="translate(85.20,535.37) scale(1.07,1)" text-anchor="middle">180</text>
<text transform="translate(129.50,526.97) scale(1.07,1)" text-anchor="middle">-150</text>
<text transform="translate(155.40,502.87) scale(1.07,1)" text-anchor="middle">-120</text>
<text transform="translate(161.80,463.77) scale(1.07,1)" text-anchor="middle">-90</text>
<text transform="translate(152.50,425.17) scale(1.07,1)" text-anchor="middle">-60</text>
<text transform="translate(126.70,400.77) scale(1.07,1)" text-anchor="middle">-30</text>
<text transform="translate(89.90,545.30) scale(1.07,1)" text-anchor="middle" class="cap">(e) F= 72 GHz</text>
<ellipse cx="292.7" cy="459.4" rx="16.82" ry="15.93" fill="none" stroke="#3c3c3c" stroke-width="1" stroke-dasharray="1.5 2.6"/>
<ellipse cx="292.7" cy="459.4" rx="33.65" ry="31.85" fill="none" stroke="#3c3c3c" stroke-width="1" stroke-dasharray="1.5 2.6"/>
<ellipse cx="292.7" cy="459.4" rx="50.47" ry="47.78" fill="none" stroke="#3c3c3c" stroke-width="1" stroke-dasharray="1.5 2.6"/>
<line x1="292.7" y1="459.4" x2="259.05" y2="404.23" stroke="#3c3c3c" stroke-width="1" stroke-dasharray="2.4 2.2"/>
<line x1="292.7" y1="459.4" x2="234.42" y2="427.55" stroke="#3c3c3c" stroke-width="1" stroke-dasharray="2.4 2.2"/>
<line x1="292.7" y1="459.4" x2="234.42" y2="491.25" stroke="#3c3c3c" stroke-width="1" stroke-dasharray="2.4 2.2"/>
<line x1="292.7" y1="459.4" x2="259.05" y2="514.57" stroke="#3c3c3c" stroke-width="1" stroke-dasharray="2.4 2.2"/>
<line x1="292.7" y1="459.4" x2="326.35" y2="514.57" stroke="#3c3c3c" stroke-width="1" stroke-dasharray="2.4 2.2"/>
<line x1="292.7" y1="459.4" x2="350.98" y2="491.25" stroke="#3c3c3c" stroke-width="1" stroke-dasharray="2.4 2.2"/>
<line x1="292.7" y1="459.4" x2="350.98" y2="427.55" stroke="#3c3c3c" stroke-width="1" stroke-dasharray="2.4 2.2"/>
<line x1="292.7" y1="459.4" x2="326.35" y2="404.23" stroke="#3c3c3c" stroke-width="1" stroke-dasharray="2.4 2.2"/>
<line x1="225.40" y1="459.4" x2="360.00" y2="459.4" stroke="#8a8a8a" stroke-width="1.8"/>
<line x1="293.0" y1="395.70" x2="293.0" y2="523.10" stroke="#8c8c8c" stroke-width="1.6"/>
<ellipse cx="292.7" cy="459.4" rx="67.3" ry="63.7" fill="none" stroke="#4a4a4a" stroke-width="0.95"/>
<line x1="309.52" y1="457.40" x2="309.52" y2="461.40" stroke="#333" stroke-width="1.1"/>
<line x1="326.35" y1="457.40" x2="326.35" y2="461.40" stroke="#333" stroke-width="1.1"/>
<line x1="343.17" y1="457.40" x2="343.17" y2="461.40" stroke="#333" stroke-width="1.1"/>
<line x1="360.00" y1="457.40" x2="360.00" y2="461.40" stroke="#333" stroke-width="1.1"/>
<rect x="284.35" y="462.70" width="16.69" height="14.7" fill="#fff"/>
<rect x="301.18" y="462.70" width="16.69" height="14.7" fill="#fff"/>
<rect x="318.00" y="462.70" width="16.69" height="14.7" fill="#fff"/>
<rect x="339.11" y="462.70" width="8.14" height="14.7" fill="#fff"/>
<rect x="353.36" y="462.70" width="13.27" height="14.7" fill="#fff"/>
<text transform="translate(292.70,474.07) scale(1.07,1)" text-anchor="middle">-60</text>
<text transform="translate(309.52,474.07) scale(1.07,1)" text-anchor="middle">-40</text>
<text transform="translate(326.35,474.07) scale(1.07,1)" text-anchor="middle">-20</text>
<text transform="translate(343.17,474.07) scale(1.07,1)" text-anchor="middle">0</text>
<text transform="translate(360.00,474.07) scale(1.07,1)" text-anchor="middle">20</text>
<ellipse cx="292.2" cy="459.1" rx="53.6" ry="51.0" fill="none" stroke="#6e9c22" stroke-width="1.4"/>
<path d="M288.80,424.80 C288.63,424.20 288.32,422.50 287.80,421.20 C287.28,419.90 286.58,418.32 285.70,417.00 C284.82,415.68 283.65,414.40 282.50,413.30 C281.35,412.20 280.02,411.17 278.80,410.40 C277.58,409.63 276.33,409.02 275.20,408.70 C274.07,408.38 273.02,408.47 272.00,408.50 C270.98,408.53 270.35,408.58 269.10,408.90 C267.85,409.22 266.03,409.60 264.50,410.40 C262.97,411.20 261.58,412.47 259.90,413.70 C258.22,414.93 256.08,416.20 254.40,417.80 C252.72,419.40 251.18,421.30 249.80,423.30 C248.42,425.30 247.18,427.50 246.10,429.80 C245.02,432.10 244.00,434.50 243.30,437.10 C242.60,439.70 242.20,442.48 241.90,445.40 C241.60,448.32 241.47,452.07 241.50,454.60 C241.53,457.13 241.63,458.68 242.10,460.60 C242.57,462.52 243.48,464.25 244.30,466.10 C245.12,467.95 245.93,469.85 247.00,471.70 C248.07,473.55 249.32,475.67 250.70,477.20 C252.08,478.73 253.92,479.52 255.30,480.90 C256.68,482.28 257.77,484.13 259.00,485.50 C260.23,486.87 261.32,488.12 262.70,489.10 C264.08,490.08 265.92,490.93 267.30,491.40 C268.68,491.87 269.87,491.97 271.00,491.90 C272.13,491.83 273.18,490.85 274.10,491.00 C275.02,491.15 275.65,492.03 276.50,492.80 C277.35,493.57 278.13,494.73 279.20,495.60 C280.27,496.47 281.85,497.68 282.90,498.00 C283.95,498.32 284.67,497.93 285.50,497.50 C286.33,497.07 287.18,496.15 287.90,495.40 C288.62,494.65 289.25,493.57 289.80,493.00 C290.35,492.43 290.73,491.92 291.20,492.00 C291.67,492.08 292.13,492.78 292.60,493.50 C293.07,494.22 293.45,495.48 294.00,496.30 C294.55,497.12 295.18,497.95 295.90,498.40 C296.62,498.85 297.58,499.03 298.30,499.00 C299.02,498.97 299.65,498.65 300.20,498.20 C300.75,497.75 301.20,497.25 301.60,496.30 C302.00,495.35 302.38,493.92 302.60,492.50 C302.82,491.08 302.95,489.22 302.90,487.80 C302.85,486.38 302.58,485.27 302.30,484.00 C302.02,482.73 301.63,481.47 301.20,480.20 C300.77,478.93 300.18,477.50 299.70,476.40 C299.22,475.30 298.72,474.47 298.30,473.60 C297.88,472.73 297.12,470.88 297.20,471.20 C297.28,471.52 298.22,474.00 298.80,475.50 C299.38,477.00 300.07,478.70 300.70,480.20 C301.33,481.70 301.90,483.15 302.60,484.50 C303.30,485.85 304.12,487.20 304.90,488.30 C305.68,489.40 306.43,490.32 307.30,491.10 C308.17,491.88 309.15,492.57 310.10,493.00 C311.05,493.43 312.20,493.62 313.00,493.70 C313.80,493.78 314.35,493.85 314.90,493.50 C315.45,493.15 315.98,492.47 316.30,491.60 C316.62,490.73 316.80,489.48 316.80,488.30 C316.80,487.12 316.53,485.68 316.30,484.50 C316.07,483.32 315.55,482.07 315.40,481.20 C315.25,480.33 315.25,479.75 315.40,479.30 C315.55,478.85 315.75,478.43 316.30,478.50 C316.85,478.57 317.75,479.42 318.70,479.70 C319.65,479.98 320.95,480.07 322.00,480.20 C323.05,480.33 323.95,480.45 325.00,480.50 C326.05,480.55 327.23,480.77 328.30,480.50 C329.37,480.23 330.48,479.82 331.40,478.90 C332.32,477.98 333.13,476.72 333.80,475.00 C334.47,473.28 334.87,470.72 335.40,468.60 C335.93,466.48 336.47,464.40 337.00,462.30 C337.53,460.20 338.30,458.52 338.60,456.00 C338.90,453.48 339.07,449.88 338.80,447.20 C338.53,444.52 337.77,442.20 337.00,439.90 C336.23,437.60 335.28,435.25 334.20,433.40 C333.12,431.55 331.88,430.02 330.50,428.80 C329.12,427.58 327.43,427.02 325.90,426.10 C324.37,425.18 322.53,424.38 321.30,423.30 C320.07,422.22 319.27,420.83 318.50,419.60 C317.73,418.37 317.62,416.97 316.70,415.90 C315.78,414.83 314.38,414.02 313.00,413.20 C311.62,412.38 310.08,411.55 308.40,411.00 C306.72,410.45 304.58,410.22 302.90,409.90 C301.22,409.58 299.58,409.07 298.30,409.10 C297.02,409.13 296.17,409.58 295.20,410.10 C294.23,410.62 293.22,411.23 292.50,412.20 C291.78,413.17 291.33,414.50 290.90,415.90 C290.47,417.30 290.25,419.12 289.90,420.60 C289.55,422.08 288.98,424.10 288.80,424.80" fill="none" stroke="#f61010" stroke-width="1.75" stroke-linejoin="round" stroke-linecap="round"/>
<line x1="236.5" y1="424.2" x2="293.0" y2="459.4" stroke="#1c8cf4" stroke-width="1.4"/>
<line x1="267.3" y1="400.3" x2="293.0" y2="459.4" stroke="#1c8cf4" stroke-width="1.4"/>
<line x1="252" y1="408.7" x2="293.0" y2="459.4" stroke="#1414ee" stroke-width="1.6"/>
<circle cx="293.0" cy="459.4" r="1.6" fill="#111"/>
<text transform="translate(292.50,391.27) scale(1.07,1)" text-anchor="middle">0</text>
<text transform="translate(252.10,399.87) scale(1.07,1)" text-anchor="middle">30</text>
<text transform="translate(226.40,424.27) scale(1.07,1)" text-anchor="middle">60</text>
<text transform="translate(216.70,462.77) scale(1.07,1)" text-anchor="middle">90</text>
<text transform="translate(223.70,502.17) scale(1.07,1)" text-anchor="middle">120</text>
<text transform="translate(249.50,526.27) scale(1.07,1)" text-anchor="middle">150</text>
<text transform="translate(292.80,534.57) scale(1.07,1)" text-anchor="middle">180</text>
<text transform="translate(337.10,526.17) scale(1.07,1)" text-anchor="middle">-150</text>
<text transform="translate(363.00,502.07) scale(1.07,1)" text-anchor="middle">-120</text>
<text transform="translate(369.40,462.97) scale(1.07,1)" text-anchor="middle">-90</text>
<text transform="translate(360.10,424.37) scale(1.07,1)" text-anchor="middle">-60</text>
<text transform="translate(334.30,399.97) scale(1.07,1)" text-anchor="middle">-30</text>
<text transform="translate(298.40,543.40) scale(1.07,1)" text-anchor="middle" class="cap">(f) F= 74 GHz</text>
</svg>
</body></html>
